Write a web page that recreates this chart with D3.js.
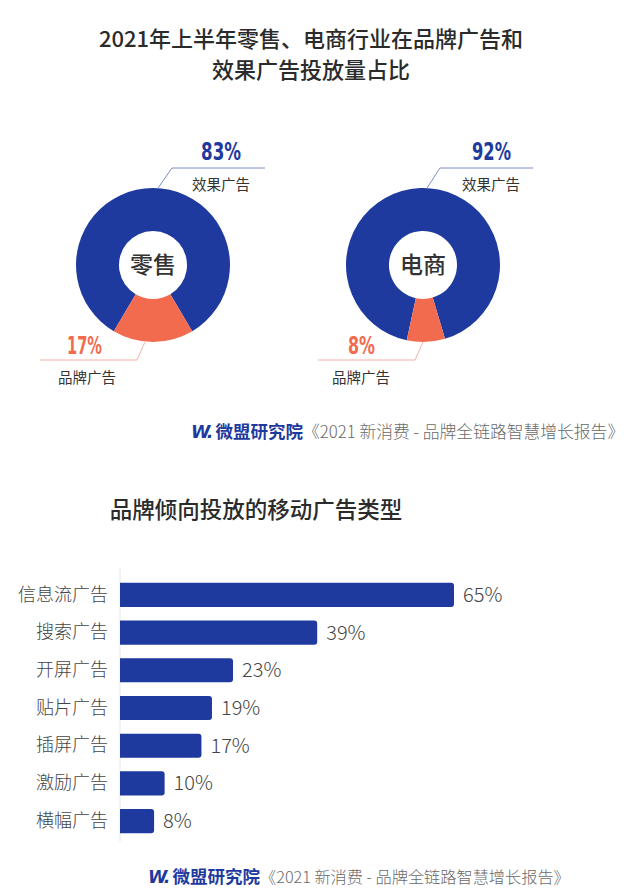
<!DOCTYPE html>
<html><head><meta charset="utf-8">
<script src="https://cdn.jsdelivr.net/npm/d3@7/dist/d3.min.js"></script>
<style>
html,body{margin:0;padding:0;background:#fff;}
svg{display:block;font-family:"Noto Sans CJK SC","Noto Sans",sans-serif;}
</style></head>
<body>
<svg id="c" width="627" height="888"></svg>
<script>
// ---- data ----
const titleLines = ["2021年上半年零售、电商行业在品牌广告和", "效果广告投放量占比"];
const donutNames = ["零售", "电商"];
const sliceLabels = ["效果广告", "品牌广告"];
const retailValues = [83, 17];
const ecomValues = [92, 8];
const barTitle = "品牌倾向投放的移动广告类型";
const barCategories = ["信息流广告", "搜索广告", "开屏广告", "贴片广告", "插屏广告", "激励广告", "横幅广告"];
const barValues = [65, 39, 23, 19, 17, 10, 8];
const sourceBrand = "微盟研究院";
const sourceText = "《2021 新消费 - 品牌全链路智慧增长报告》";

const BLUE = "#1e3a9e", ORANGE = "#f26b4f", TXT = "#333";
const svg = d3.select("#c");

// title
svg.selectAll("text.title").data(titleLines).join("text")
  .attr("class","title").attr("x",311).attr("y",(d,i)=>47+i*31)
  .attr("text-anchor","middle").attr("font-size",22).attr("font-weight",500)
  .attr("fill","#2b2b2b").text(d=>d);

// donuts
const donuts = [
  {name: donutNames[0], values: retailValues, cx:153, cy:265, start:210.6,
   top:{p0:[158,188],p1:[172,168],end:265,lx:241,w:40}, bot:{p0:[145,342],p1:[137,360],end:40,lx:67,w:35,tx:87}},
  {name: donutNames[1], values: ecomValues, cx:423, cy:265, start:192.2,
   top:{p0:[427,188],p1:[440,168],end:533,lx:511,w:39}, bot:{p0:[423,342],p1:[415,360],end:318,lx:348,w:27,tx:361}}
];
const arc = d3.arc().innerRadius(34).outerRadius(77);
const condensed = "'Liberation Sans Narrow','DejaVu Sans Condensed','Liberation Sans',sans-serif";
donuts.forEach(dn => {
  const g = svg.append("g").attr("transform",`translate(${dn.cx},${dn.cy})`);
  const pie = d3.pie().sort(null).value(d=>d)
     .startAngle(dn.start*Math.PI/180).endAngle((dn.start+360)*Math.PI/180);
  g.selectAll("path").data(pie(dn.values)).join("path")
    .attr("d",arc).attr("fill",(d,i)=>i===0?BLUE:ORANGE);
  g.append("text").attr("text-anchor","middle").attr("dy","0.36em")
    .attr("font-size",23).attr("font-weight",500).attr("fill",TXT).text(dn.name);
  const t = dn.top, b = dn.bot;
  svg.append("polyline").attr("points",[t.p0,t.p1,[t.end,t.p1[1]]].map(p=>p.join(",")).join(" "))
    .attr("fill","none").attr("stroke","#5b6fb5").attr("stroke-width",0.8);
  svg.append("polyline").attr("points",[b.p0,b.p1,[b.end,b.p1[1]]].map(p=>p.join(",")).join(" "))
    .attr("fill","none").attr("stroke","#f4a08e").attr("stroke-width",0.8);
  svg.append("text").attr("x",t.lx - t.w).attr("y",160)
    .attr("textLength",t.w).attr("lengthAdjust","spacingAndGlyphs")
    .attr("font-family",condensed)
    .attr("font-weight","bold").attr("font-size",25).attr("fill",BLUE).text(dn.values[0]+"%");
  svg.append("text").attr("x",t.lx+9).attr("y",190).attr("text-anchor","end")
    .attr("font-size",14.5).attr("fill","#333").text(sliceLabels[0]);
  svg.append("text").attr("x",b.lx).attr("y",354)
    .attr("textLength",b.w).attr("lengthAdjust","spacingAndGlyphs")
    .attr("font-family",condensed)
    .attr("font-weight","bold").attr("font-size",25).attr("fill",ORANGE).text(dn.values[1]+"%");
  svg.append("text").attr("x",b.tx).attr("y",383).attr("text-anchor","middle")
    .attr("font-size",14.5).attr("fill","#333").text(sliceLabels[1]);
});

// source lines
function source(x, y, gs) {
  const t = svg.append("text").attr("x",x).attr("y",y).attr("font-size",17.5);
  t.append("tspan").attr("fill",BLUE).attr("font-weight","900").attr("font-style","italic")
    .attr("font-family","'DejaVu Sans',sans-serif").attr("letter-spacing",-2).text("W. ");
  t.append("tspan").attr("fill",BLUE).attr("font-weight","bold").text(sourceBrand);
  t.append("tspan").attr("fill","#6a6a6a").attr("font-weight",300).attr("font-size",gs).text(sourceText);
}
source(191, 438, 16.8);
source(148, 883, 16.2);

// bar chart title
svg.append("text").attr("x",256).attr("y",518).attr("text-anchor","middle")
  .attr("font-size",22.5).attr("font-weight",500).attr("fill","#2b2b2b").text(barTitle);

// bar chart
const axisX = 120;
const x = d3.scaleLinear().domain([0,65]).range([112,454]);
const y = d3.scaleBand().domain(barCategories).range([576,840]).paddingInner(0.36).paddingOuter(0.18);
svg.append("line").attr("x1",axisX).attr("x2",axisX).attr("y1",568).attr("y2",842)
  .attr("stroke","#e6e6e6").attr("stroke-width",1);
const bars = svg.append("g");
barCategories.forEach((c,i) => {
  const v = barValues[i], x1 = x(v), y0 = y(c), h = y.bandwidth(), r = 3;
  bars.append("path").attr("fill",BLUE)
    .attr("d",`M${axisX},${y0}H${x1-r}Q${x1},${y0} ${x1},${y0+r}V${y0+h-r}Q${x1},${y0+h} ${x1-r},${y0+h}H${axisX}Z`);
  svg.append("text").attr("x",x1+9).attr("y",y0+h/2).attr("dy","0.35em")
    .attr("font-size",20).attr("font-weight",300).attr("fill","#444").text(v+"%");
});
svg.append("g").attr("transform",`translate(${axisX},0)`)
  .call(d3.axisLeft(y).tickSize(0).tickPadding(12))
  .call(g=>g.select(".domain").remove())
  .selectAll("text").attr("font-size",18).attr("fill","#444")
  .attr("font-family","'Noto Sans CJK SC',sans-serif").attr("font-weight",300);
</script>
</body></html>
